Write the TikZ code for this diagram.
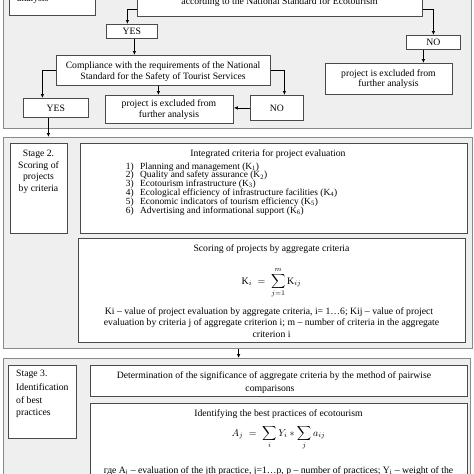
\documentclass[tikz,border=0pt]{standalone}
\usepackage{fontspec}
\setmainfont{Liberation Serif}
\usetikzlibrary{arrows.meta}
\definecolor{framefill}{HTML}{EFEFEF}
\definecolor{frameline}{HTML}{8A8A8A}
\definecolor{boxline}{HTML}{4A4A4A}
\begin{document}
\begin{tikzpicture}[x=1pt,y=1pt,
  frame/.style={draw=frameline, fill=framefill, line width=1.2pt, inner sep=0pt, anchor=north west},
  box/.style={draw=boxline, fill=white, line width=0.8pt, inner sep=0pt, anchor=north west},
  txt/.style={font=\fontsize{9.7}{11}\selectfont, inner sep=0pt},
  lst/.style={font=\fontsize{9.4}{11}\selectfont, inner sep=0pt},
  arr/.style={draw=black, line width=0.7pt, -{Latex[length=4pt,width=3.5pt]}},
]
\useasboundingbox (0,0) rectangle (474,-474);
\clip (0,0) rectangle (474,-474);
\fill[white] (0,0) rectangle (474,-474);

% stage frames
\node[frame, minimum width=468pt, minimum height=148pt] (st1) at (3,20) {};
\node[frame, minimum width=469pt, minimum height=211pt] (st2) at (3,-137) {};
\node[frame, minimum width=467pt, minimum height=140pt] (st3) at (3,-358) {};

% stage 1 boxes
\node[box, minimum width=86pt, minimum height=35pt] (tl) at (9,20) {};
\node[txt, anchor=base west] (tltxt) at (17,-1.5) {analysis};
\node[box, minimum width=285pt, minimum height=36pt] (topbox) at (137,20) {};
\node[txt, anchor=base] (toptxt) at (279.5,-4) {according to the National Standard for Ecotourism};

\node[box, minimum width=51pt, minimum height=14pt, txt] (yes1) at (106,-24) {YES};
\node[box, minimum width=54pt, minimum height=14pt, txt] (no1) at (406,-35) {NO};

\node[box, minimum width=214pt, minimum height=30pt] (comp) at (56,-55) {};
\node[txt, anchor=base] (comp1) at (163,-68) {Compliance with the requirements of the National};
\node[txt, anchor=base] (comp2) at (163,-79) {Standard for the Safety of Tourist Services};

\node[box, minimum width=127pt, minimum height=31pt] (exr) at (325,-63) {};
\node[txt, anchor=base] (exr1) at (388.5,-76) {project is excluded from};
\node[txt, anchor=base] (exr2) at (388.5,-86.5) {further analysis};

\node[box, minimum width=65pt, minimum height=19pt, txt] (yes2) at (23,-98) {YES};

\node[box, minimum width=128pt, minimum height=28pt] (exm) at (105,-95) {};
\node[txt, anchor=base] (exm1) at (169,-106) {project is excluded from};
\node[txt, anchor=base] (exm2) at (169,-117.5) {further analysis};

\node[box, minimum width=53pt, minimum height=25pt, txt] (no2) at (250,-95) {NO};

% stage 1 connectors
\draw[arr] ([yshift=7pt]topbox.south west) -| ([xshift=-4.5pt]yes1.north);
\draw[arr] ([yshift=7pt]topbox.south east) -| (no1.north);
\draw[arr] ([xshift=2.5pt]yes1.south) -- ([xshift=2.5pt]yes1.south |- comp.north);
\draw[arr] ([xshift=-10pt]no1.south) -- ([xshift=-10pt]no1.south |- exr.north);
\draw[arr] (comp.west) -| ([xshift=-13.5pt]yes2.north);
\draw[arr] ([xshift=-5pt]comp.south) -- ([xshift=-5pt]comp.south |- exm.north);
\draw[arr] (comp.east) -| ([xshift=7.5pt]no2.north);
\draw[arr] (no2.west) -- (no2.west -| exm.east);
\draw[arr] ([xshift=-7.5pt]yes2.south) -- ([xshift=-7.5pt]yes2.south |- st2.north);

% stage 2
\node[box, minimum width=57pt, minimum height=90pt] (s2box) at (10,-143) {};
\node[txt, anchor=base] (s2a) at (38.5,-156) {Stage 2.};
\node[txt, anchor=base] (s2b) at (38.5,-168) {Scoring of};
\node[txt, anchor=base] (s2c) at (38.5,-179.5) {projects};
\node[txt, anchor=base] (s2d) at (38.5,-191) {by criteria};

\node[box, minimum width=387pt, minimum height=90pt] (integ) at (80,-143) {};
\node[txt, anchor=base] (ihead) at (268,-156) {Integrated criteria for project evaluation};
\foreach \i/\t in {1/{Planning and management (K\textsubscript{1})},
                   2/{Quality and safety assurance (K\textsubscript{2})},
                   3/{Ecotourism infrastructure (K\textsubscript{3})},
                   4/{Ecological efficiency of infrastructure facilities (K\textsubscript{4})},
                   5/{Economic indicators of tourism efficiency (K\textsubscript{5})},
                   6/{Advertising and informational support (K\textsubscript{6})}}{
  \node[lst, anchor=base east] (num\i) at (134,{-169-8.8*(\i-1)}) {\i)};
  \node[lst, anchor=base west] (item\i) at (140,{-169-8.8*(\i-1)}) {\t};
}

\node[box, minimum width=387pt, minimum height=104pt] (scor) at (78,-238) {};
\node[txt, anchor=base] (shead) at (271.5,-251) {Scoring of projects by aggregate criteria};
\node[txt, font=\fontsize{10}{12}\selectfont] (sform) at (271.5,-283) {$\displaystyle \mathrm{K}_i \;=\; \sum_{j=1}^{m} \mathrm{K}_{ij}$};
\node[txt, anchor=base] (sl1) at (269,-314) {Ki – value of project evaluation by aggregate criteria, i= 1…6; Kij – value of project};
\node[txt, anchor=base] (sl2) at (271.5,-325.5) {evaluation by criteria j of aggregate criterion i; m – number of criteria in the aggregate};
\node[txt, anchor=base] (sl3) at (271.5,-337) {criterion i};

\draw[arr] ([xshift=0.5pt]st2.south) -- ([xshift=0.5pt]st2.south |- st3.north);

% stage 3
\node[box, minimum width=68pt, minimum height=73pt] (s3box) at (8,-365) {};
\node[txt, anchor=base west] (s3a) at (16,-376) {Stage 3.};
\node[txt, anchor=base west] (s3b) at (16,-390) {Identification};
\node[txt, anchor=base west] (s3c) at (16,-403) {of best};
\node[txt, anchor=base west] (s3d) at (16,-415) {practices};

\node[box, minimum width=377pt, minimum height=31pt] (det) at (90,-365) {};
\node[txt, anchor=base] (det1) at (274,-378) {Determination of the significance of aggregate criteria by the method of pairwise};
\node[txt, anchor=base] (det2) at (270,-391) {comparisons};

\node[box, minimum width=377pt, minimum height=100pt] (iden) at (90,-403) {};
\node[txt, anchor=base] (ihd) at (278.5,-416) {Identifying the best practices of ecotourism};
\node[txt, font=\fontsize{10}{12}\selectfont] (iform) at (278.5,-438) {$\displaystyle A_j \;=\; \sum_{i} Y_i \ast \sum_{j} a_{ij}$};
\node[txt, anchor=base] (il1) at (278.5,-473) {где A\textsubscript{j} – evaluation of the jth practice, j=1…p, p – number of practices; Y\textsubscript{i} – weight of the};
\end{tikzpicture}
\end{document}
